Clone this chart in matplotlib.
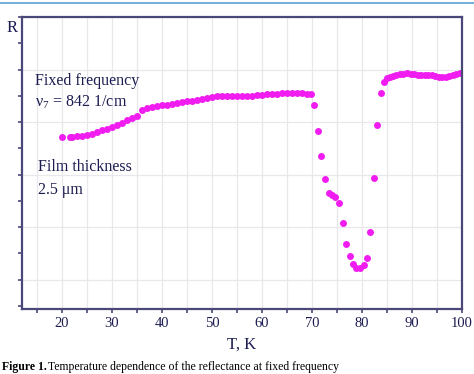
import matplotlib.pyplot as plt
from matplotlib.lines import Line2D
from matplotlib.ticker import MultipleLocator

plt.rcParams['font.family'] = ['Liberation Serif', 'DejaVu Serif']
plt.rcParams['mathtext.fontset'] = 'custom'
plt.rcParams['mathtext.rm'] = 'Liberation Serif'

# temperature (K) and reflectance (arb. units)
T = [20, 21.5, 22, 23, 24, 25, 26, 27, 28, 29, 30, 31, 32, 33, 34, 35, 36, 37, 38, 39,
     40, 41, 42, 43, 44, 45, 46, 47, 48, 49, 50, 51, 52, 53, 54, 55, 56, 57, 58, 59,
     60, 61, 62, 63, 64, 65, 66, 67, 68, 69, 69.7,
     70.3, 71.1, 71.8, 72.6, 73.3, 73.9, 74.6, 75.4, 76.1, 76.8, 77.5, 78.1, 78.8, 79.5,
     80.3, 80.9, 81.6, 82.3, 82.9, 83.7, 84.3, 84.9, 85.5, 86.1, 86.8, 87.5, 88.2, 89,
     89.7, 90.4, 91.1, 91.8, 92.5, 93.2, 93.9, 94.6, 95.3, 96, 96.7, 97.4, 98.1, 98.8, 99.5]
R = [2.71, 2.71, 2.72, 2.73, 2.74, 2.76, 2.78, 2.81, 2.84, 2.87, 2.90, 2.94, 2.98, 3.03,
     3.08, 3.12, 3.23, 3.27, 3.29, 3.30, 3.32, 3.33, 3.34, 3.36, 3.38, 3.40, 3.41, 3.42,
     3.44, 3.46, 3.48, 3.50, 3.50, 3.50, 3.49, 3.49, 3.49, 3.49, 3.50, 3.51, 3.52, 3.53,
     3.53, 3.54, 3.55, 3.56, 3.56, 3.55, 3.55, 3.54, 3.53,
     3.32, 2.83, 2.36, 1.91, 1.65, 1.61, 1.57, 1.46, 1.07, 0.68, 0.45, 0.30, 0.23, 0.23,
     0.28, 0.42, 0.91, 1.93, 2.94, 3.55, 3.76, 3.83, 3.86, 3.88, 3.89, 3.91, 3.92, 3.93,
     3.92, 3.91, 3.90, 3.89, 3.90, 3.90, 3.89, 3.87, 3.86, 3.85, 3.86, 3.88, 3.89, 3.91, 3.93]

x_ticks = [20, 30, 40, 50, 60, 70, 80, 90, 100]

navy = '#1c1c50'
spine_col = '#4a4878'

fig = plt.figure(figsize=(4.74, 3.74), dpi=100)
ax = fig.add_axes([22 / 474, 1 - 309 / 374, 440 / 474, 292 / 374])

ax.plot(T, R, 'o', color='#f01cf0', markersize=5.0, markeredgewidth=0)

ax.set_xlim(12, 100)
ax.set_ylim(-0.56, 5.0)
ax.set_xticks(x_ticks)
ax.xaxis.set_minor_locator(MultipleLocator(5))
ax.yaxis.set_major_locator(MultipleLocator(1))
ax.yaxis.set_minor_locator(MultipleLocator(0.5))
ax.set_yticklabels([])
ax.grid(True, which='both', axis='x', color='#e8e8ec', linewidth=0.9)
ax.grid(True, which='major', axis='y', color='#e8e8ec', linewidth=0.9)
ax.set_axisbelow(True)

for s in ax.spines.values():
    s.set_color(spine_col)
    s.set_linewidth(1.6)
ax.tick_params(which='both', direction='out', color=spine_col, length=3, width=1.2,
               labelsize=10.5, labelcolor=navy, pad=3)

ax.set_xlabel('T, K', fontsize=12, color=navy, labelpad=2)
ax.xaxis.set_label_coords(0.5, -0.095)
fig.text(7 / 474, 1 - 28 / 374, 'R', fontsize=12, color=navy, va='center', ha='left')

txt = dict(fontsize=11.5, color=navy, va='center', ha='left')
ax.text(14.6, 3.79, 'Fixed frequency', **txt)
ax.text(14.6, 3.38, r'ν$_{7}$ = 842 1/cm', **txt)
ax.text(15.1, 2.14, 'Film thickness', **txt)
ax.text(15.1, 1.70, '2.5 μm', **txt)

# thin blue rule at the top and the caption line at the bottom
fig.add_artist(Line2D([0, 1], [1 - 3 / 374, 1 - 3 / 374], color='#5a9fd6', linewidth=1.2))
fig.text(2 / 474, 1 - 361 / 374, 'Figure 1.', fontsize=8.5, fontweight='bold', color='black',
         va='top', ha='left')
fig.text(48 / 474, 1 - 361 / 374, 'Temperature dependence of the reflectance at fixed frequency',
         fontsize=8.5, color='black', va='top', ha='left')

fig.savefig('out.png', dpi=100)
